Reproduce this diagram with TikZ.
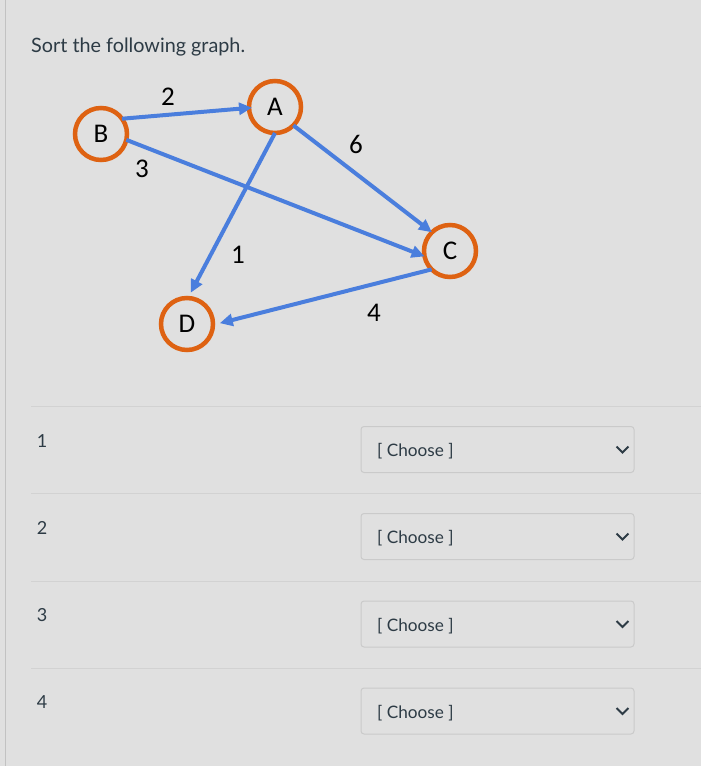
\documentclass[tikz,border=0pt]{standalone}
\usepackage{fontspec}
\setmainfont{Lato}
\newfontfamily\calfont{Carlito}
\usetikzlibrary{arrows.meta}
\definecolor{bg}{HTML}{E0E0E0}
\definecolor{edgeblue}{RGB}{74,126,221}
\definecolor{ringorange}{RGB}{222,98,18}
\definecolor{uitext}{HTML}{2D3B45}
\definecolor{sepline}{HTML}{D2D2D2}
\definecolor{boxline}{HTML}{CACACA}
\definecolor{leftbar}{HTML}{C2C2C2}
\tikzset{
  vertex/.style={circle, draw=ringorange, line width=4.5pt, minimum size=52pt, inner sep=0pt, outer sep=0pt,
    font=\calfont\fontsize{27}{30}\selectfont, text=black},
  wlabel/.style={font=\calfont\fontsize{27}{30}\selectfont, text=black, inner sep=0pt},
  arc/.style={draw=edgeblue, line width=4pt, -{Triangle[length=13pt,width=12pt]}},
  rownum/.style={font=\fontsize{18}{20}\selectfont, text=uitext, inner sep=0pt},
  choosebox/.style={draw=boxline, line width=1pt, rounded corners=3pt, minimum width=273pt, minimum height=46pt, inner sep=0pt},
  choosetext/.style={font=\fontsize{17.2}{20}\selectfont, text=uitext, inner sep=0pt, anchor=base west},
  chev/.style={draw=uitext, line width=2pt},
  sep/.style={draw=sepline, line width=1pt}
}
\begin{document}
\begin{tikzpicture}[x=1pt,y=-1pt]
\fill[bg] (0,0) rectangle (701,766);
\useasboundingbox (0,0) rectangle (701,766);
\draw[leftbar, line width=1.5pt] (5.5,0) -- (5.5,766);
\node[anchor=base west, inner sep=0pt, text=uitext, font=\fontsize{19.8}{22}\selectfont] (title) at (31,52) {Sort the following graph.};
% graph
\node[vertex] (B) at (101,134) {B};
\node[vertex] (A) at (275,107) {A};
\node[vertex] (C) at (450,251) {C};
\node[vertex] (D) at (187,324) {D};
\draw[arc, shorten >=-3pt] (B.36) -- (A.182);
\draw[arc] (B.-13) -- (C.192);
\draw[arc] (A.-45) -- (C.134);
\draw[arc, shorten >=6pt] (A.-90) -- (D.88);
\draw[arc, shorten >=7pt] (C.225) -- (D.-2);
\node[wlabel] (w2) at (168,97) {2};
\node[wlabel] (w3) at (142,169) {3};
\node[wlabel] (w6) at (356,144) {6};
\node[wlabel] (w1) at (238,255) {1};
\node[wlabel] (w4) at (374,313) {4};
% rows
\foreach \i/\s/\n/\b in {1/406/441/449.5, 2/493/528/536.5, 3/581/615/624, 4/668/702/711}{
  \draw[sep] (31,\s) -- (701,\s);
  \node[rownum] (num\i) at (42,\n) {\i};
  \node[choosebox] (box\i) at (497.5,\b) {};
  \node[choosetext] (txt\i) at (377,\b+7) {[ Choose ]};
  \draw[chev] ([xshift=-18pt,yshift=3pt]box\i.east) -- ([xshift=-12pt,yshift=-3pt]box\i.east) -- ([xshift=-6pt,yshift=3pt]box\i.east);
}
\end{tikzpicture}
\end{document}
